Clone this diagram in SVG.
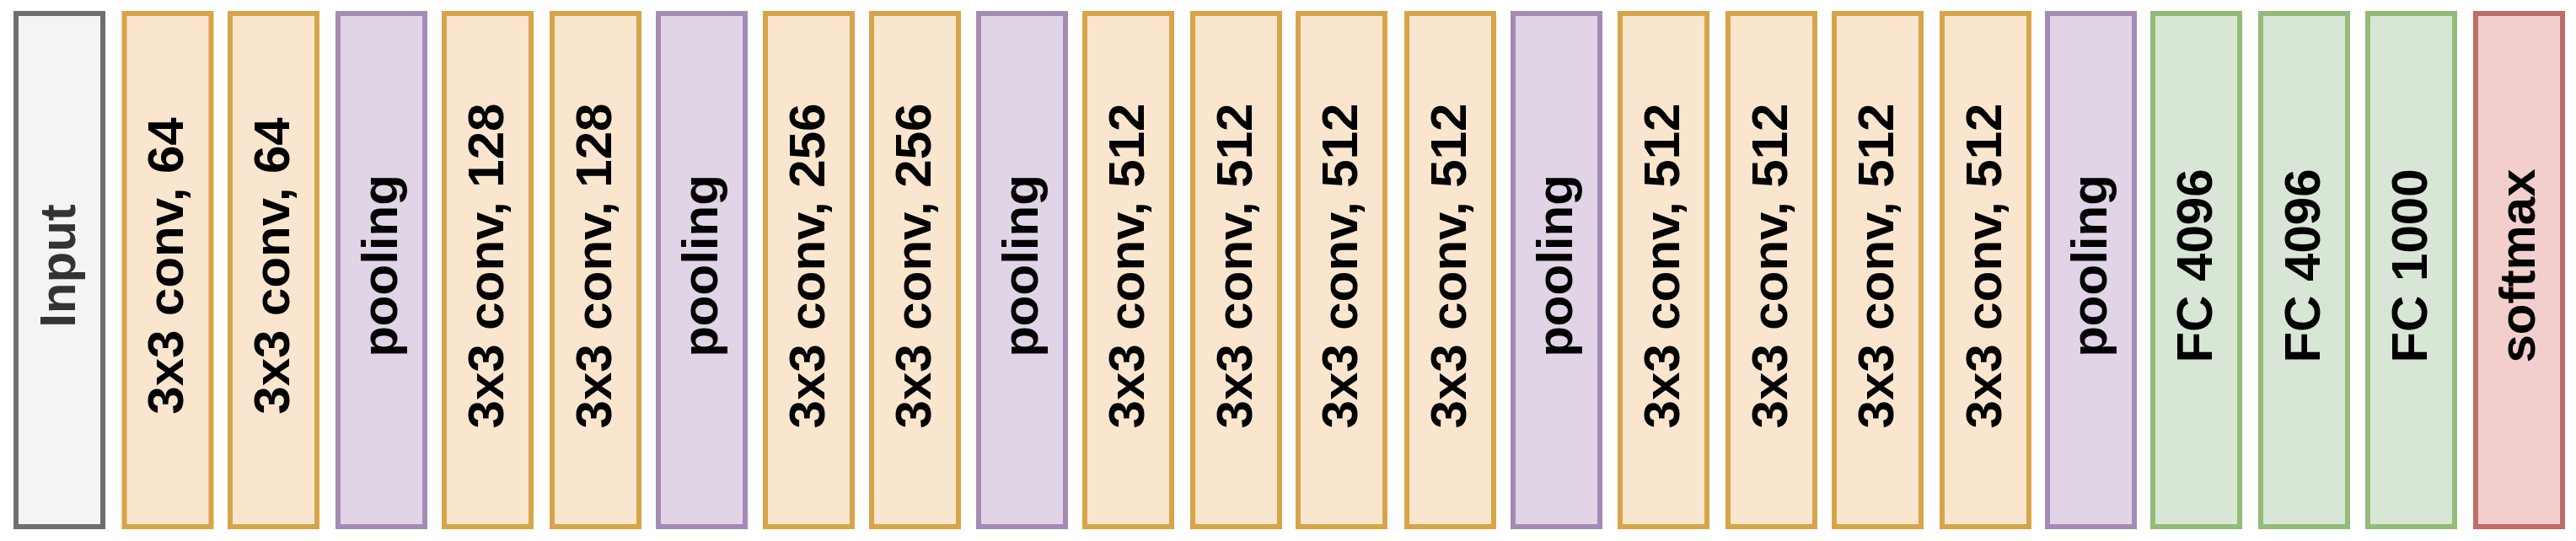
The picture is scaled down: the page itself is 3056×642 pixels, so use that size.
<svg xmlns="http://www.w3.org/2000/svg" width="3056" height="642" viewBox="0 0 3056 642">
<style>
rect{stroke-width:6}
.in{fill:#f4f4f4;stroke:#6e6e6e}
.cv{fill:#fae6cf;stroke:#d6a54a}
.pl{fill:#e0d4e6;stroke:#a48bb6}
.fc{fill:#d8e6d6;stroke:#94bb78}
.sm{fill:#f2cfcd;stroke:#c06c68}
text{font-family:"Liberation Sans",Arial,sans-serif;font-weight:bold;font-size:60px;text-anchor:middle;fill:#000}
.tin{fill:#333}
</style>
<rect width="3056" height="642" fill="#fff" style="stroke:none"/>
<g id="connectors"/>
<g id="n0"><rect class="in" x="19" y="16" width="103" height="609"/><text class="tin" transform="translate(88.5,315.5) rotate(-90)">Input</text></g>
<g id="n1"><rect class="cv" x="147.5" y="16" width="103" height="609"/><text transform="translate(217,315.5) rotate(-90)">3x3 conv, 64</text></g>
<g id="n2"><rect class="cv" x="273" y="16" width="103" height="609"/><text transform="translate(342.5,315.5) rotate(-90)">3x3 conv, 64</text></g>
<g id="n3"><rect class="pl" x="401" y="16" width="103" height="609"/><text transform="translate(470.5,315.5) rotate(-90)">pooling</text></g>
<g id="n4"><rect class="cv" x="527" y="16" width="103" height="609"/><text transform="translate(596.5,315.5) rotate(-90)">3x3 conv, 128</text></g>
<g id="n5"><rect class="cv" x="655" y="16" width="103" height="609"/><text transform="translate(724.5,315.5) rotate(-90)">3x3 conv, 128</text></g>
<g id="n6"><rect class="pl" x="781" y="16" width="103" height="609"/><text transform="translate(850.5,315.5) rotate(-90)">pooling</text></g>
<g id="n7"><rect class="cv" x="908" y="16" width="103" height="609"/><text transform="translate(977.5,315.5) rotate(-90)">3x3 conv, 256</text></g>
<g id="n8"><rect class="cv" x="1034" y="16" width="103" height="609"/><text transform="translate(1103.5,315.5) rotate(-90)">3x3 conv, 256</text></g>
<g id="n9"><rect class="pl" x="1161" y="16" width="103" height="609"/><text transform="translate(1230.5,315.5) rotate(-90)">pooling</text></g>
<g id="n10"><rect class="cv" x="1287" y="16" width="103" height="609"/><text transform="translate(1356.5,315.5) rotate(-90)">3x3 conv, 512</text></g>
<g id="n11"><rect class="cv" x="1415" y="16" width="103" height="609"/><text transform="translate(1484.5,315.5) rotate(-90)">3x3 conv, 512</text></g>
<g id="n12"><rect class="cv" x="1540" y="16" width="103" height="609"/><text transform="translate(1609.5,315.5) rotate(-90)">3x3 conv, 512</text></g>
<g id="n13"><rect class="cv" x="1669" y="16" width="103" height="609"/><text transform="translate(1738.5,315.5) rotate(-90)">3x3 conv, 512</text></g>
<g id="n14"><rect class="pl" x="1795" y="16" width="103" height="609"/><text transform="translate(1864.5,315.5) rotate(-90)">pooling</text></g>
<g id="n15"><rect class="cv" x="1922" y="16" width="103" height="609"/><text transform="translate(1991.5,315.5) rotate(-90)">3x3 conv, 512</text></g>
<g id="n16"><rect class="cv" x="2050" y="16" width="103" height="609"/><text transform="translate(2119.5,315.5) rotate(-90)">3x3 conv, 512</text></g>
<g id="n17"><rect class="cv" x="2176" y="16" width="103" height="609"/><text transform="translate(2245.5,315.5) rotate(-90)">3x3 conv, 512</text></g>
<g id="n18"><rect class="cv" x="2304" y="16" width="103" height="609"/><text transform="translate(2373.5,315.5) rotate(-90)">3x3 conv, 512</text></g>
<g id="n19"><rect class="pl" x="2429" y="16" width="103" height="609"/><text transform="translate(2498.5,315.5) rotate(-90)">pooling</text></g>
<g id="n20"><rect class="fc" x="2554" y="16" width="103" height="609"/><text transform="translate(2623.5,315.5) rotate(-90)">FC 4096</text></g>
<g id="n21"><rect class="fc" x="2682" y="16" width="103" height="609"/><text transform="translate(2751.5,315.5) rotate(-90)">FC 4096</text></g>
<g id="n22"><rect class="fc" x="2809" y="16" width="103" height="609"/><text transform="translate(2878.5,315.5) rotate(-90)">FC 1000</text></g>
<g id="n23"><rect class="sm" x="2937" y="16" width="103" height="609"/><text transform="translate(3006.5,315.5) rotate(-90)">softmax</text></g>
</svg>
